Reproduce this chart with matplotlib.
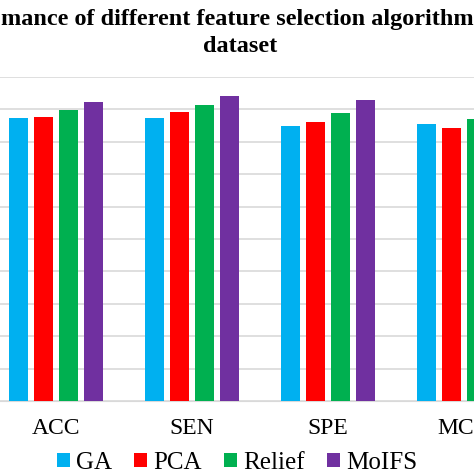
import numpy as np
import matplotlib.pyplot as plt

categories = ["ACC", "SEN", "SPE", "MCC"]
methods = ["GA", "PCA", "Relief", "MoIFS"]
colors = ["#00b0f0", "#ff0000", "#00b050", "#7030a0"]
ga = [0.873, 0.873, 0.850, 0.855]
pca = [0.878, 0.893, 0.861, 0.844]
relief = [0.898, 0.914, 0.890, 0.870]
moifs = [0.922, 0.942, 0.928, 0.910]
series = [ga, pca, relief, moifs]

plt.rcParams['font.family'] = ['Liberation Serif', 'DejaVu Serif']

fig = plt.figure(figsize=(4.74, 4.74), dpi=100)
# axes spans full width; bottom at 401 px, top at 77 px
ax = fig.add_axes([0, 73 / 474, 1, 324 / 474])

x = np.arange(len(categories))
width = 0.143
pitch = 0.184
for i, (name, vals) in enumerate(zip(methods, series)):
    ax.bar(x + (i - 1.5) * pitch, vals, width, color=colors[i], label=name, zorder=3)

ax.set_xlim(-0.412, 3.074)
ax.set_ylim(0, 1.0)
ax.set_yticks(np.arange(0, 1.01, 0.1))
ax.yaxis.grid(True, color="#d9d9d9", linewidth=1.2, zorder=0)
ax.tick_params(axis="y", left=False, labelleft=False)
ax.tick_params(axis="x", length=0, labelsize=17, pad=12)
ax.set_xticks(x)
ax.set_xticklabels(categories)
for s in ["top", "left", "right"]:
    ax.spines[s].set_visible(False)
ax.spines["bottom"].set_color("#d9d9d9")

fig.text(0.5, 1 - 19 / 474, "mance of different feature selection algorithm",
         ha="center", va="center", fontsize=17.5, fontweight="bold")
fig.text(0.507, 1 - 47 / 474, "dataset", ha="center", va="center",
         fontsize=17.5, fontweight="bold")

ax.legend(loc="center", bbox_to_anchor=(0.5, -0.19), ncol=4, frameon=False,
          fontsize=18, handlelength=0.5, handleheight=0.5, handletextpad=0.25,
          columnspacing=0.9)

fig.savefig("out.png", dpi=100)
